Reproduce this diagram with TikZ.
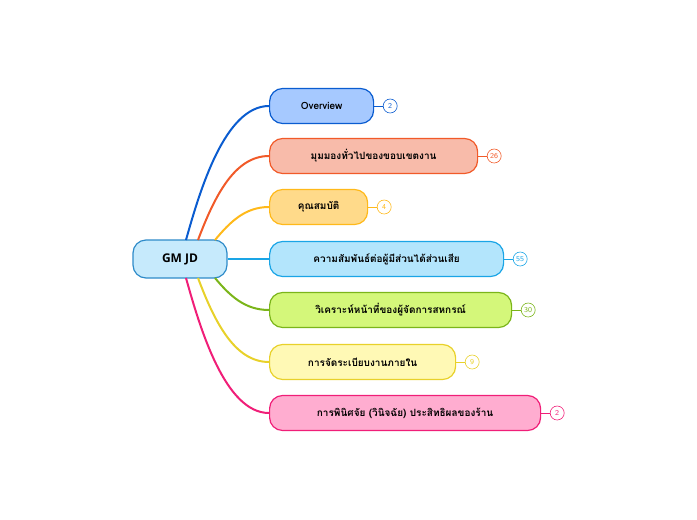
\documentclass[tikz,border=0pt]{standalone}
\usepackage{fontspec}
\setmainfont{Open Sans}
\newfontfamily\thai[Script=Thai]{Loma}
\begin{document}
\begin{tikzpicture}[x=1pt,y=-1pt,
  br/.style={rounded corners=13pt,line width=1.2pt,minimum height=35pt,anchor=west,inner xsep=21pt,font=\thai\bfseries\fontsize{10}{12}\selectfont,text=black},
  badge/.style={circle,draw,line width=0.6pt,inner sep=0pt,minimum size=14pt,font=\sffamily\fontsize{7.5}{8}\selectfont},
  con/.style={line width=2pt}]
\useasboundingbox (0,0) rectangle (697,520);
\definecolor{cA}{HTML}{0A5CD0}\definecolor{fA}{HTML}{A6C9FF}
\definecolor{cB}{HTML}{F15A29}\definecolor{fB}{HTML}{F8BBAA}
\definecolor{cC}{HTML}{FFB91A}\definecolor{fC}{HTML}{FFDA8A}
\definecolor{cD}{HTML}{1AA5E6}\definecolor{fD}{HTML}{B3E5FC}
\definecolor{cE}{HTML}{7BB51A}\definecolor{fE}{HTML}{D4F77A}
\definecolor{cF}{HTML}{E8D12A}\definecolor{fF}{HTML}{FFF9B5}
\definecolor{cG}{HTML}{F01E78}\definecolor{fG}{HTML}{FFADD0}
\definecolor{cM}{HTML}{2E8BC9}\definecolor{fM}{HTML}{C6EAFC}
\node[draw=cM,fill=fM,line width=1.2pt,rounded corners=13pt,minimum width=94pt,minimum height=38pt,font=\bfseries\fontsize{12}{14}\selectfont] (m) at (180,259) {GM JD};
\foreach \n/\y/\w/\c/\t/\k in {
 a/106/104/A/Overview/2,
 b/156/208/B/มุมมองทั่วไปของขอบเขตงาน/26,
 c/207/98/C/คุณสมบัติ/4,
 d/259/234/D/ความสัมพันธ์ต่อผู้มีส่วนได้ส่วนเสีย/55,
 e/310/242/E/วิเคราะห์หน้าที่ของผู้จัดการสหกรณ์/30,
 f/362/186/F/การจัดระเบียบงานภายใน/9,
 g/413/271/G/การพินิศจัย (วินิจฉัย) ประสิทธิผลของร้าน/2}{
  \node[br,draw=c\c,fill=f\c,minimum width=\w pt] (\n) at (269,\y) {\t};
  \node[badge,draw=c\c,text=c\c] (\n b) at ([xshift=16pt]\n.east) {\k};
  \draw[c\c,line width=0.8pt] (\n.east) -- (\n b);
}
\draw[con,cA] (186,240) .. controls (200,190) and (225,106) .. (a.west);
\draw[con,cB] (198,240) .. controls (215,195) and (235,156) .. (b.west);
\draw[con,cC] (215,240) .. controls (230,222) and (245,207) .. (c.west);
\draw[con,cD] (m.east) -- (d.west);
\draw[con,cE] (215,278) .. controls (230,296) and (245,310) .. (e.west);
\draw[con,cF] (198,278) .. controls (215,323) and (235,362) .. (f.west);
\draw[con,cG] (186,278) .. controls (200,328) and (225,413) .. (g.west);
\end{tikzpicture}
\end{document}
